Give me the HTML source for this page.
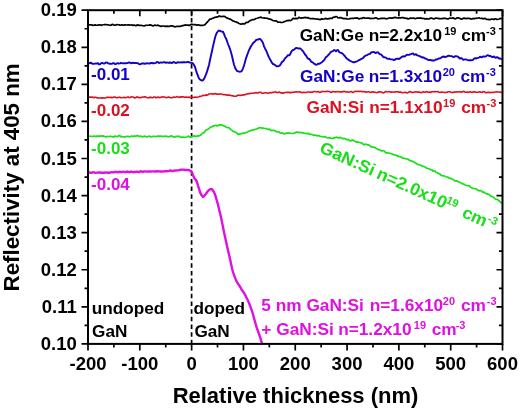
<!DOCTYPE html>
<html><head><meta charset="utf-8"><style>
html,body{margin:0;padding:0;background:#fff;}
svg{display:block;}
text{font-family:"Liberation Sans",Arial,sans-serif;font-weight:bold;}
</style></head><body>
<svg width="520" height="412" viewBox="0 0 520 412">
<rect width="520" height="412" fill="#fff"/>
<line x1="191.6" y1="10.44" x2="191.6" y2="343" stroke="#000" stroke-width="1.7" stroke-dasharray="4.5 3.16"/>
<path d="M88.0 25.26L89.0 24.94L90.0 24.93L91.0 24.81L92.0 24.89L93.0 25.41L94.0 25.24L95.0 24.81L96.0 25.08L97.0 25.24L98.0 25.20L99.0 24.88L100.0 24.85L101.0 25.32L102.0 25.00L103.0 24.77L104.0 24.68L105.0 24.51L106.0 24.54L107.0 24.78L108.0 24.89L109.0 25.02L110.0 25.30L111.0 25.23L112.0 24.55L113.0 24.47L114.0 25.07L115.0 25.23L116.0 24.86L117.0 24.69L118.0 24.73L119.0 24.74L120.0 25.15L121.0 25.05L122.0 24.76L123.0 25.24L124.0 25.05L125.0 24.86L126.0 24.95L127.0 24.99L128.0 24.81L129.0 24.78L130.0 25.27L131.0 25.02L132.0 24.94L133.0 25.38L134.0 25.06L135.0 25.41L136.0 25.69L137.0 25.11L138.0 24.92L139.0 25.39L140.0 25.32L141.0 25.41L142.0 25.52L143.0 25.72L144.0 25.93L145.0 25.58L146.0 25.25L147.0 25.25L148.0 25.28L149.0 25.17L150.0 24.88L151.0 25.11L152.0 25.53L153.0 26.00L154.0 25.47L155.0 25.07L156.0 25.47L157.0 25.36L158.0 25.19L159.0 25.68L160.0 25.99L161.0 26.32L162.0 26.07L163.0 25.99L164.0 25.98L165.0 26.47L166.0 26.39L167.0 26.07L168.0 26.32L169.0 26.30L170.0 26.13L171.0 25.87L172.0 25.94L173.0 26.17L174.0 26.50L175.0 26.82L176.0 26.51L177.0 26.44L178.0 26.38L179.0 26.40L180.0 26.38L181.0 26.15L182.0 25.66L183.0 25.58L184.0 25.46L185.0 24.87L186.0 25.11L187.0 25.20L188.0 25.07L189.0 25.61L190.0 25.12L191.0 24.32L192.0 24.43L193.0 24.57L194.0 24.57L195.0 24.50L196.0 24.84L197.0 25.20L198.0 24.89L199.0 24.95L200.0 25.43L201.0 25.31L202.0 25.45L203.0 25.33L204.0 24.98L205.0 24.60L206.0 23.50L207.0 22.36L208.0 21.30L209.0 20.11L210.0 19.13L211.0 19.14L212.0 18.46L213.0 18.18L214.0 17.74L215.0 17.39L216.0 17.20L217.0 16.86L218.0 16.81L219.0 16.04L220.0 16.08L221.0 16.77L222.0 16.48L223.0 16.24L224.0 16.40L225.0 16.62L226.0 17.45L227.0 18.11L228.0 18.36L229.0 18.73L230.0 19.15L231.0 19.58L232.0 20.26L233.0 20.93L234.0 21.25L235.0 21.73L236.0 21.93L237.0 22.36L238.0 22.83L239.0 23.42L240.0 23.81L241.0 24.05L242.0 23.90L243.0 23.68L244.0 23.98L245.0 23.65L246.0 22.63L247.0 22.31L248.0 22.30L249.0 21.45L250.0 20.58L251.0 20.39L252.0 19.75L253.0 19.67L254.0 19.67L255.0 19.10L256.0 18.47L257.0 18.25L258.0 17.98L259.0 17.56L260.0 17.39L261.0 17.14L262.0 17.77L263.0 17.98L264.0 17.87L265.0 18.18L266.0 18.25L267.0 18.21L268.0 18.65L269.0 18.94L270.0 19.08L271.0 19.39L272.0 20.02L273.0 20.59L274.0 20.74L275.0 20.82L276.0 20.74L277.0 21.38L278.0 22.26L279.0 22.23L280.0 22.17L281.0 22.49L282.0 22.48L283.0 22.26L284.0 21.70L285.0 21.51L286.0 21.08L287.0 20.60L288.0 20.67L289.0 20.37L290.0 20.53L291.0 20.43L292.0 19.53L293.0 18.41L294.0 18.63L295.0 18.61L296.0 18.35L297.0 18.67L298.0 18.16L299.0 17.30L300.0 17.74L301.0 18.14L302.0 17.91L303.0 17.89L304.0 17.70L305.0 17.43L306.0 17.61L307.0 17.80L308.0 17.57L309.0 18.17L310.0 18.59L311.0 18.67L312.0 18.63L313.0 18.55L314.0 18.68L315.0 18.78L316.0 19.01L317.0 19.10L318.0 19.14L319.0 19.38L320.0 19.70L321.0 19.17L322.0 18.87L323.0 19.23L324.0 19.03L325.0 18.64L326.0 18.41L327.0 18.94L328.0 18.96L329.0 18.62L330.0 18.38L331.0 18.45L332.0 18.38L333.0 17.45L334.0 17.07L335.0 17.10L336.0 16.49L337.0 16.77L338.0 17.78L339.0 18.02L340.0 17.60L341.0 17.58L342.0 18.15L343.0 18.56L344.0 18.41L345.0 18.54L346.0 18.61L347.0 18.87L348.0 18.98L349.0 18.88L350.0 18.54L351.0 18.50L352.0 18.38L353.0 18.38L354.0 18.31L355.0 17.99L356.0 18.18L357.0 17.83L358.0 18.35L359.0 19.00L360.0 18.51L361.0 18.29L362.0 18.45L363.0 17.73L364.0 17.64L365.0 18.21L366.0 18.27L367.0 18.09L368.0 17.98L369.0 18.05L370.0 18.38L371.0 18.54L372.0 18.23L373.0 18.51L374.0 18.41L375.0 17.92L376.0 17.83L377.0 18.27L378.0 18.94L379.0 18.77L380.0 18.67L381.0 18.38L382.0 18.41L383.0 18.29L384.0 18.26L385.0 18.40L386.0 18.78L387.0 18.76L388.0 18.43L389.0 18.00L390.0 17.79L391.0 18.19L392.0 18.20L393.0 17.85L394.0 17.65L395.0 17.44L396.0 17.56L397.0 18.02L398.0 17.94L399.0 17.78L400.0 17.77L401.0 17.85L402.0 17.54L403.0 17.57L404.0 17.87L405.0 18.20L406.0 18.30L407.0 18.24L408.0 18.94L409.0 18.75L410.0 18.19L411.0 18.20L412.0 18.29L413.0 17.98L414.0 18.13L415.0 18.69L416.0 18.53L417.0 18.16L418.0 18.01L419.0 18.12L420.0 18.14L421.0 17.87L422.0 18.45L423.0 18.52L424.0 18.41L425.0 18.99L426.0 18.84L427.0 18.69L428.0 19.01L429.0 18.91L430.0 18.34L431.0 18.12L432.0 18.16L433.0 18.77L434.0 18.88L435.0 18.42L436.0 18.05L437.0 18.26L438.0 18.37L439.0 18.59L440.0 18.60L441.0 18.72L442.0 18.60L443.0 18.46L444.0 18.40L445.0 18.46L446.0 18.41L447.0 18.84L448.0 18.91L449.0 18.50L450.0 18.11L451.0 18.28L452.0 18.17L453.0 17.80L454.0 18.41L455.0 18.80L456.0 18.58L457.0 17.92L458.0 17.77L459.0 18.12L460.0 18.37L461.0 19.09L462.0 19.06L463.0 18.38L464.0 18.10L465.0 18.43L466.0 18.63L467.0 18.41L468.0 18.47L469.0 18.38L470.0 18.56L471.0 19.04L472.0 18.98L473.0 18.54L474.0 18.47L475.0 18.53L476.0 18.33L477.0 18.21L478.0 18.00L479.0 17.73L480.0 18.24L481.0 18.46L482.0 18.36L483.0 18.82L484.0 18.56L485.0 18.30L486.0 18.92L487.0 19.48L488.0 19.40L489.0 19.62L490.0 19.70L491.0 19.27L492.0 18.94L493.0 19.30L494.0 19.45L495.0 18.81L496.0 18.95L497.0 19.49L498.0 19.30L499.0 19.02L500.0 18.61L501.0 18.41L502.0 19.05" stroke="#000000" stroke-width="1.7" fill="none" stroke-linejoin="round"/>
<path d="M88.0 63.46L89.0 63.44L90.0 62.97L91.0 62.77L92.0 63.51L93.0 63.86L94.0 63.76L95.0 63.59L96.0 63.46L97.0 63.47L98.0 63.28L99.0 64.25L100.0 64.39L101.0 63.37L102.0 62.92L103.0 63.25L104.0 63.50L105.0 63.23L106.0 62.38L107.0 62.66L108.0 63.33L109.0 63.54L110.0 63.80L111.0 63.92L112.0 63.70L113.0 63.19L114.0 63.09L115.0 64.09L116.0 63.95L117.0 63.42L118.0 63.17L119.0 63.62L120.0 63.39L121.0 62.82L122.0 63.17L123.0 63.43L124.0 63.22L125.0 63.11L126.0 63.18L127.0 63.08L128.0 62.94L129.0 62.46L130.0 62.61L131.0 63.25L132.0 63.02L133.0 62.66L134.0 63.03L135.0 63.05L136.0 63.08L137.0 63.07L138.0 63.23L139.0 64.11L140.0 64.41L141.0 63.93L142.0 63.49L143.0 63.55L144.0 63.39L145.0 63.76L146.0 63.53L147.0 63.23L148.0 63.41L149.0 63.48L150.0 63.52L151.0 62.88L152.0 62.99L153.0 63.26L154.0 63.18L155.0 63.11L156.0 62.86L157.0 61.91L158.0 62.21L159.0 62.98L160.0 62.67L161.0 62.46L162.0 62.59L163.0 62.47L164.0 62.05L165.0 62.33L166.0 62.81L167.0 62.52L168.0 62.65L169.0 62.95L170.0 62.21L171.0 62.85L172.0 62.97L173.0 62.20L174.0 62.06L175.0 62.67L176.0 63.15L177.0 62.66L178.0 62.22L179.0 62.60L180.0 62.39L181.0 62.32L182.0 62.50L183.0 62.24L184.0 62.06L185.0 62.28L186.0 62.42L187.0 62.14L188.0 61.90L189.0 62.33L190.0 62.53L191.0 62.69L192.0 62.88L193.0 63.52L194.0 64.94L195.0 66.97L196.0 70.35L197.0 73.42L198.0 75.87L199.0 78.51L200.0 79.40L201.0 80.16L202.0 80.58L203.0 80.24L204.0 78.85L205.0 77.02L206.0 74.43L207.0 71.64L208.0 68.37L209.0 64.98L210.0 59.97L211.0 55.44L212.0 50.94L213.0 46.16L214.0 42.11L215.0 37.80L216.0 34.58L217.0 32.51L218.0 31.27L219.0 30.56L220.0 30.75L221.0 31.36L222.0 31.68L223.0 31.74L224.0 33.83L225.0 36.61L226.0 38.43L227.0 41.05L228.0 43.99L229.0 46.40L230.0 49.04L231.0 52.20L232.0 56.05L233.0 60.47L234.0 64.75L235.0 67.46L236.0 69.50L237.0 70.81L238.0 71.25L239.0 71.69L240.0 71.62L241.0 71.64L242.0 70.58L243.0 68.26L244.0 65.61L245.0 61.88L246.0 58.34L247.0 55.51L248.0 52.73L249.0 50.17L250.0 48.24L251.0 46.23L252.0 44.72L253.0 43.27L254.0 42.21L255.0 41.52L256.0 40.19L257.0 39.62L258.0 39.49L259.0 39.14L260.0 38.90L261.0 39.84L262.0 41.30L263.0 43.03L264.0 46.33L265.0 48.46L266.0 50.24L267.0 52.67L268.0 55.03L269.0 57.35L270.0 59.30L271.0 61.05L272.0 62.86L273.0 64.00L274.0 64.40L275.0 64.94L276.0 65.83L277.0 66.37L278.0 66.26L279.0 65.89L280.0 65.35L281.0 63.76L282.0 61.79L283.0 61.31L284.0 60.11L285.0 58.47L286.0 57.44L287.0 56.31L288.0 55.26L289.0 55.39L290.0 54.62L291.0 52.32L292.0 50.77L293.0 50.02L294.0 49.68L295.0 48.84L296.0 47.83L297.0 48.04L298.0 48.50L299.0 48.48L300.0 48.46L301.0 48.98L302.0 50.21L303.0 51.13L304.0 52.81L305.0 54.49L306.0 55.51L307.0 57.40L308.0 58.74L309.0 58.74L310.0 59.70L311.0 61.42L312.0 62.16L313.0 62.53L314.0 63.66L315.0 64.03L316.0 64.88L317.0 64.58L318.0 63.67L319.0 63.94L320.0 63.48L321.0 62.82L322.0 62.18L323.0 61.04L324.0 60.35L325.0 58.74L326.0 57.07L327.0 56.51L328.0 55.32L329.0 54.39L330.0 53.01L331.0 51.79L332.0 51.42L333.0 51.12L334.0 50.02L335.0 50.37L336.0 51.22L337.0 50.32L338.0 50.00L339.0 51.69L340.0 52.54L341.0 52.82L342.0 53.22L343.0 54.00L344.0 55.25L345.0 56.24L346.0 57.70L347.0 58.77L348.0 59.33L349.0 60.15L350.0 60.82L351.0 61.24L352.0 61.73L353.0 62.29L354.0 62.31L355.0 61.99L356.0 61.60L357.0 61.31L358.0 60.69L359.0 60.07L360.0 59.75L361.0 59.04L362.0 58.61L363.0 58.19L364.0 56.84L365.0 56.05L366.0 55.37L367.0 55.16L368.0 54.45L369.0 54.14L370.0 53.90L371.0 52.45L372.0 52.26L373.0 52.09L374.0 51.89L375.0 52.75L376.0 53.07L377.0 52.42L378.0 52.25L379.0 53.47L380.0 54.26L381.0 54.34L382.0 55.35L383.0 56.69L384.0 57.33L385.0 57.31L386.0 57.75L387.0 58.57L388.0 58.87L389.0 58.64L390.0 59.18L391.0 59.38L392.0 59.33L393.0 59.59L394.0 60.10L395.0 59.67L396.0 58.83L397.0 58.80L398.0 58.77L399.0 59.03L400.0 58.38L401.0 57.45L402.0 56.74L403.0 56.27L404.0 56.44L405.0 56.38L406.0 55.42L407.0 54.80L408.0 54.87L409.0 54.84L410.0 54.43L411.0 54.05L412.0 53.63L413.0 53.41L414.0 54.71L415.0 54.53L416.0 54.25L417.0 55.22L418.0 55.65L419.0 55.84L420.0 56.28L421.0 56.90L422.0 57.47L423.0 57.26L424.0 57.72L425.0 58.46L426.0 58.69L427.0 59.25L428.0 59.88L429.0 60.18L430.0 59.97L431.0 60.06L432.0 60.52L433.0 60.49L434.0 60.53L435.0 60.03L436.0 59.42L437.0 59.45L438.0 58.84L439.0 58.48L440.0 58.37L441.0 57.84L442.0 57.09L443.0 56.49L444.0 56.74L445.0 57.03L446.0 56.90L447.0 56.37L448.0 56.00L449.0 55.68L450.0 55.95L451.0 56.10L452.0 56.15L453.0 56.92L454.0 57.08L455.0 56.21L456.0 56.20L457.0 56.42L458.0 56.65L459.0 57.86L460.0 58.62L461.0 58.04L462.0 58.48L463.0 59.71L464.0 59.70L465.0 59.38L466.0 59.42L467.0 59.83L468.0 60.08L469.0 60.37L470.0 60.29L471.0 60.26L472.0 60.11L473.0 59.83L474.0 58.72L475.0 58.20L476.0 58.50L477.0 58.17L478.0 57.90L479.0 57.62L480.0 56.79L481.0 57.02L482.0 57.19L483.0 56.49L484.0 56.45L485.0 56.70L486.0 56.34L487.0 55.35L488.0 55.17L489.0 55.87L490.0 56.02L491.0 56.29L492.0 56.95L493.0 56.97L494.0 56.39L495.0 57.34L496.0 57.83L497.0 57.10L498.0 57.56L499.0 58.50L500.0 58.50L501.0 58.86L502.0 59.16" stroke="#1400c8" stroke-width="1.9" fill="none" stroke-linejoin="round"/>
<path d="M88.0 97.39L89.0 97.15L90.0 97.01L91.0 97.37L92.0 97.00L93.0 97.22L94.0 97.72L95.0 97.18L96.0 97.33L97.0 97.87L98.0 97.88L99.0 98.00L100.0 97.96L101.0 97.82L102.0 98.17L103.0 97.82L104.0 97.89L105.0 97.99L106.0 97.69L107.0 97.33L108.0 97.26L109.0 97.53L110.0 97.35L111.0 97.36L112.0 97.61L113.0 97.51L114.0 97.01L115.0 96.99L116.0 97.68L117.0 97.61L118.0 97.45L119.0 97.19L120.0 97.33L121.0 97.77L122.0 97.69L123.0 97.47L124.0 97.33L125.0 97.65L126.0 97.58L127.0 97.30L128.0 96.87L129.0 97.64L130.0 97.55L131.0 96.82L132.0 97.03L133.0 97.03L134.0 97.44L135.0 98.04L136.0 97.60L137.0 96.74L138.0 97.21L139.0 97.77L140.0 97.67L141.0 97.62L142.0 97.26L143.0 96.95L144.0 96.90L145.0 96.74L146.0 97.30L147.0 97.46L148.0 97.74L149.0 97.85L150.0 97.15L151.0 97.34L152.0 97.75L153.0 97.65L154.0 96.95L155.0 97.01L156.0 97.74L157.0 97.59L158.0 97.05L159.0 97.38L160.0 97.63L161.0 97.12L162.0 96.94L163.0 96.87L164.0 96.98L165.0 97.21L166.0 97.58L167.0 97.61L168.0 97.10L169.0 97.10L170.0 97.66L171.0 97.73L172.0 97.72L173.0 97.32L174.0 97.02L175.0 97.21L176.0 97.18L177.0 96.56L178.0 97.01L179.0 97.35L180.0 97.13L181.0 96.89L182.0 96.78L183.0 96.85L184.0 96.94L185.0 97.39L186.0 97.07L187.0 97.17L188.0 97.48L189.0 96.99L190.0 97.38L191.0 97.68L192.0 97.09L193.0 97.47L194.0 97.53L195.0 97.09L196.0 97.23L197.0 97.35L198.0 97.07L199.0 96.75L200.0 96.35L201.0 96.24L202.0 95.88L203.0 95.29L204.0 95.55L205.0 95.45L206.0 94.90L207.0 95.12L208.0 94.79L209.0 93.93L210.0 93.94L211.0 93.73L212.0 93.75L213.0 94.24L214.0 93.87L215.0 93.57L216.0 93.87L217.0 94.13L218.0 93.97L219.0 94.20L220.0 94.00L221.0 93.87L222.0 94.36L223.0 94.50L224.0 94.68L225.0 94.59L226.0 94.69L227.0 95.17L228.0 95.16L229.0 95.04L230.0 95.10L231.0 95.60L232.0 95.79L233.0 95.83L234.0 96.18L235.0 96.23L236.0 96.27L237.0 95.81L238.0 95.07L239.0 95.26L240.0 95.38L241.0 95.34L242.0 95.13L243.0 94.92L244.0 94.92L245.0 94.64L246.0 94.30L247.0 94.01L248.0 93.73L249.0 93.53L250.0 93.60L251.0 93.19L252.0 93.21L253.0 93.20L254.0 92.98L255.0 92.87L256.0 92.52L257.0 92.97L258.0 93.05L259.0 92.27L260.0 92.27L261.0 92.53L262.0 93.17L263.0 93.35L264.0 93.00L265.0 92.78L266.0 92.70L267.0 92.96L268.0 93.22L269.0 92.90L270.0 92.60L271.0 92.87L272.0 92.45L273.0 92.36L274.0 92.38L275.0 91.89L276.0 92.02L277.0 92.67L278.0 92.48L279.0 92.07L280.0 92.50L281.0 93.02L282.0 92.88L283.0 93.18L284.0 92.77L285.0 92.50L286.0 92.57L287.0 92.36L288.0 92.41L289.0 92.38L290.0 92.64L291.0 92.64L292.0 92.39L293.0 92.23L294.0 92.32L295.0 92.05L296.0 91.79L297.0 92.02L298.0 91.96L299.0 91.87L300.0 91.86L301.0 92.34L302.0 92.81L303.0 92.46L304.0 92.16L305.0 92.57L306.0 92.68L307.0 92.08L308.0 91.94L309.0 91.94L310.0 92.23L311.0 92.05L312.0 92.17L313.0 91.89L314.0 91.51L315.0 91.54L316.0 91.79L317.0 91.96L318.0 91.58L319.0 92.02L320.0 92.42L321.0 92.01L322.0 91.62L323.0 91.45L324.0 91.48L325.0 91.71L326.0 91.50L327.0 91.36L328.0 91.41L329.0 91.45L330.0 91.87L331.0 92.48L332.0 91.88L333.0 91.44L334.0 91.68L335.0 91.87L336.0 91.81L337.0 91.67L338.0 91.51L339.0 91.76L340.0 92.03L341.0 91.91L342.0 91.88L343.0 91.82L344.0 91.33L345.0 91.63L346.0 92.04L347.0 91.87L348.0 92.02L349.0 92.32L350.0 91.87L351.0 91.43L352.0 92.00L353.0 92.47L354.0 91.90L355.0 91.37L356.0 91.37L357.0 91.53L358.0 91.36L359.0 91.38L360.0 91.43L361.0 91.21L362.0 91.62L363.0 91.75L364.0 91.54L365.0 91.81L366.0 92.12L367.0 91.94L368.0 91.82L369.0 91.73L370.0 92.18L371.0 92.51L372.0 91.90L373.0 91.72L374.0 92.11L375.0 92.22L376.0 92.54L377.0 92.73L378.0 92.14L379.0 91.85L380.0 91.84L381.0 91.97L382.0 92.31L383.0 92.88L384.0 92.75L385.0 91.73L386.0 91.50L387.0 91.95L388.0 91.83L389.0 91.56L390.0 91.73L391.0 92.15L392.0 92.17L393.0 91.93L394.0 92.01L395.0 92.09L396.0 91.88L397.0 91.81L398.0 91.78L399.0 92.28L400.0 92.15L401.0 92.11L402.0 92.73L403.0 92.68L404.0 92.46L405.0 92.27L406.0 92.51L407.0 92.96L408.0 92.67L409.0 91.90L410.0 91.44L411.0 92.03L412.0 92.52L413.0 92.36L414.0 92.24L415.0 91.93L416.0 91.68L417.0 91.96L418.0 92.13L419.0 91.97L420.0 92.18L421.0 92.75L422.0 92.42L423.0 91.79L424.0 92.10L425.0 92.30L426.0 91.56L427.0 91.75L428.0 92.33L429.0 91.95L430.0 92.35L431.0 92.39L432.0 91.64L433.0 91.69L434.0 91.65L435.0 91.51L436.0 91.77L437.0 91.78L438.0 91.63L439.0 92.18L440.0 92.41L441.0 92.26L442.0 92.16L443.0 92.19L444.0 92.43L445.0 92.38L446.0 92.45L447.0 92.32L448.0 91.82L449.0 91.74L450.0 91.72L451.0 92.17L452.0 92.59L453.0 92.40L454.0 92.03L455.0 92.13L456.0 91.96L457.0 91.84L458.0 91.99L459.0 91.71L460.0 91.74L461.0 92.13L462.0 91.85L463.0 91.61L464.0 91.34L465.0 92.10L466.0 92.24L467.0 92.03L468.0 92.49L469.0 92.10L470.0 91.82L471.0 92.13L472.0 92.56L473.0 92.10L474.0 91.71L475.0 92.11L476.0 92.17L477.0 92.31L478.0 92.25L479.0 91.95L480.0 91.85L481.0 92.20L482.0 92.46L483.0 91.63L484.0 91.74L485.0 92.18L486.0 92.77L487.0 92.64L488.0 92.28L489.0 92.35L490.0 92.60L491.0 92.57L492.0 92.37L493.0 92.45L494.0 92.20L495.0 91.99L496.0 92.03L497.0 91.87L498.0 92.01L499.0 91.93L500.0 92.02L501.0 92.51L502.0 92.33" stroke="#dc1020" stroke-width="1.6" fill="none" stroke-linejoin="round"/>
<path d="M88.0 136.61L89.0 136.03L90.0 136.23L91.0 136.33L92.0 136.37L93.0 136.49L94.0 136.07L95.0 136.29L96.0 136.61L97.0 136.04L98.0 136.15L99.0 136.30L100.0 135.90L101.0 136.04L102.0 136.07L103.0 135.94L104.0 136.16L105.0 136.59L106.0 136.94L107.0 136.47L108.0 136.48L109.0 136.48L110.0 136.21L111.0 136.43L112.0 136.57L113.0 136.97L114.0 136.89L115.0 136.01L116.0 136.32L117.0 136.63L118.0 136.19L119.0 135.49L120.0 135.83L121.0 136.81L122.0 136.71L123.0 136.71L124.0 136.95L125.0 136.79L126.0 136.55L127.0 136.47L128.0 136.22L129.0 136.75L130.0 136.87L131.0 136.14L132.0 136.14L133.0 136.35L134.0 135.98L135.0 136.13L136.0 136.15L137.0 135.70L138.0 135.70L139.0 136.34L140.0 136.37L141.0 136.13L142.0 136.67L143.0 136.80L144.0 136.41L145.0 136.20L146.0 136.61L147.0 136.85L148.0 136.51L149.0 136.05L150.0 136.47L151.0 137.04L152.0 136.75L153.0 136.39L154.0 136.36L155.0 136.52L156.0 136.59L157.0 136.23L158.0 135.95L159.0 136.34L160.0 136.03L161.0 136.08L162.0 136.47L163.0 136.29L164.0 136.42L165.0 136.23L166.0 136.05L167.0 136.54L168.0 136.67L169.0 136.78L170.0 136.57L171.0 135.77L172.0 136.14L173.0 136.64L174.0 137.05L175.0 137.05L176.0 136.42L177.0 136.33L178.0 136.59L179.0 136.05L180.0 136.89L181.0 137.43L182.0 137.08L183.0 137.08L184.0 137.40L185.0 137.22L186.0 137.05L187.0 136.78L188.0 136.13L189.0 136.62L190.0 137.19L191.0 136.91L192.0 136.51L193.0 136.33L194.0 135.90L195.0 136.11L196.0 136.44L197.0 136.19L198.0 135.95L199.0 135.88L200.0 135.39L201.0 134.87L202.0 133.74L203.0 132.84L204.0 132.72L205.0 131.45L206.0 129.96L207.0 129.63L208.0 129.27L209.0 128.58L210.0 127.51L211.0 126.99L212.0 126.80L213.0 125.87L214.0 125.86L215.0 125.49L216.0 125.36L217.0 125.88L218.0 125.68L219.0 125.05L220.0 124.90L221.0 124.78L222.0 125.10L223.0 125.51L224.0 125.92L225.0 126.33L226.0 126.91L227.0 127.35L228.0 127.55L229.0 127.87L230.0 128.69L231.0 129.56L232.0 130.38L233.0 131.32L234.0 131.52L235.0 132.15L236.0 132.49L237.0 133.42L238.0 134.45L239.0 134.09L240.0 133.73L241.0 133.95L242.0 133.50L243.0 132.95L244.0 133.30L245.0 133.13L246.0 132.50L247.0 132.24L248.0 131.75L249.0 131.11L250.0 130.84L251.0 130.29L252.0 130.30L253.0 129.80L254.0 129.77L255.0 129.43L256.0 129.21L257.0 128.80L258.0 128.21L259.0 128.04L260.0 127.49L261.0 127.79L262.0 128.24L263.0 127.95L264.0 128.25L265.0 128.51L266.0 128.45L267.0 128.99L268.0 129.33L269.0 129.07L270.0 129.68L271.0 130.57L272.0 130.47L273.0 130.34L274.0 130.35L275.0 130.66L276.0 131.58L277.0 132.02L278.0 131.84L279.0 131.98L280.0 132.85L281.0 133.13L282.0 132.80L283.0 133.32L284.0 133.89L285.0 133.67L286.0 133.44L287.0 133.09L288.0 132.85L289.0 133.04L290.0 133.24L291.0 133.36L292.0 133.52L293.0 133.45L294.0 133.28L295.0 132.85L296.0 132.16L297.0 132.18L298.0 132.41L299.0 132.34L300.0 132.59L301.0 132.53L302.0 132.51L303.0 132.89L304.0 133.35L305.0 133.29L306.0 133.54L307.0 133.63L308.0 133.34L309.0 133.63L310.0 134.48L311.0 134.45L312.0 134.38L313.0 134.96L314.0 135.37L315.0 135.01L316.0 135.23L317.0 135.80L318.0 135.61L319.0 135.72L320.0 136.27L321.0 136.49L322.0 136.50L323.0 137.02L324.0 136.98L325.0 136.54L326.0 137.19L327.0 137.75L328.0 138.01L329.0 137.71L330.0 137.80L331.0 138.27L332.0 138.49L333.0 138.09L334.0 137.71L335.0 137.86L336.0 137.36L337.0 137.19L338.0 137.89L339.0 137.90L340.0 137.34L341.0 137.74L342.0 138.33L343.0 138.55L344.0 138.42L345.0 138.60L346.0 139.40L347.0 139.66L348.0 139.44L349.0 140.06L350.0 140.95L351.0 140.83L352.0 139.98L353.0 140.13L354.0 140.80L355.0 141.38L356.0 142.01L357.0 142.09L358.0 141.95L359.0 142.30L360.0 142.54L361.0 142.82L362.0 143.17L363.0 144.06L364.0 144.78L365.0 144.27L366.0 144.16L367.0 144.59L368.0 144.83L369.0 145.17L370.0 145.95L371.0 146.81L372.0 147.20L373.0 147.17L374.0 147.33L375.0 147.52L376.0 148.18L377.0 148.76L378.0 149.42L379.0 149.73L380.0 150.02L381.0 150.74L382.0 150.86L383.0 150.67L384.0 150.74L385.0 151.83L386.0 152.84L387.0 152.94L388.0 152.97L389.0 153.18L390.0 153.24L391.0 153.49L392.0 153.97L393.0 154.55L394.0 154.62L395.0 154.87L396.0 155.35L397.0 155.90L398.0 155.77L399.0 156.46L400.0 157.00L401.0 156.95L402.0 157.50L403.0 158.21L404.0 158.24L405.0 158.58L406.0 158.76L407.0 158.94L408.0 159.06L409.0 160.09L410.0 160.56L411.0 160.81L412.0 161.47L413.0 161.43L414.0 161.98L415.0 162.70L416.0 163.27L417.0 164.07L418.0 164.38L419.0 164.60L420.0 165.01L421.0 165.41L422.0 166.06L423.0 166.19L424.0 166.54L425.0 167.11L426.0 167.70L427.0 168.28L428.0 168.52L429.0 168.74L430.0 169.52L431.0 169.77L432.0 169.90L433.0 171.11L434.0 171.00L435.0 170.97L436.0 172.28L437.0 172.49L438.0 173.44L439.0 173.67L440.0 173.91L441.0 175.35L442.0 175.71L443.0 175.73L444.0 175.98L445.0 176.21L446.0 176.72L447.0 177.05L448.0 177.18L449.0 178.07L450.0 178.30L451.0 178.46L452.0 179.14L453.0 179.46L454.0 180.11L455.0 180.96L456.0 180.81L457.0 181.10L458.0 181.61L459.0 182.07L460.0 182.52L461.0 182.89L462.0 183.56L463.0 183.83L464.0 184.22L465.0 184.83L466.0 185.21L467.0 185.50L468.0 185.57L469.0 185.80L470.0 186.53L471.0 187.38L472.0 188.15L473.0 188.50L474.0 188.50L475.0 188.58L476.0 189.03L477.0 189.50L478.0 190.26L479.0 190.83L480.0 190.66L481.0 190.67L482.0 191.57L483.0 192.22L484.0 192.22L485.0 192.99L486.0 193.64L487.0 193.77L488.0 194.30L489.0 194.44L490.0 195.40L491.0 196.23L492.0 196.37L493.0 196.95L494.0 197.91L495.0 198.63L496.0 199.16L497.0 199.31L498.0 199.97L499.0 200.71L500.0 201.57L501.0 202.70L502.0 203.41" stroke="#18e018" stroke-width="1.7" fill="none" stroke-linejoin="round"/>
<path d="M88.0 172.74L89.0 172.54L90.0 172.57L91.0 172.76L92.0 172.68L93.0 172.30L94.0 172.35L95.0 172.73L96.0 172.84L97.0 172.62L98.0 172.63L99.0 172.32L100.0 172.47L101.0 172.82L102.0 172.76L103.0 172.77L104.0 172.71L105.0 172.56L106.0 172.58L107.0 172.50L108.0 172.77L109.0 172.79L110.0 172.52L111.0 172.33L112.0 172.10L113.0 172.34L114.0 172.24L115.0 171.91L116.0 171.97L117.0 172.03L118.0 172.33L119.0 172.03L120.0 171.77L121.0 172.20L122.0 171.99L123.0 171.73L124.0 171.92L125.0 172.18L126.0 171.98L127.0 171.52L128.0 171.79L129.0 172.21L130.0 172.05L131.0 171.54L132.0 171.87L133.0 172.21L134.0 172.06L135.0 172.04L136.0 171.82L137.0 171.76L138.0 171.94L139.0 172.18L140.0 171.53L141.0 171.22L142.0 171.83L143.0 171.87L144.0 171.36L145.0 171.42L146.0 171.55L147.0 171.59L148.0 171.52L149.0 171.50L150.0 171.48L151.0 171.60L152.0 171.41L153.0 171.35L154.0 171.38L155.0 171.56L156.0 171.57L157.0 171.27L158.0 171.23L159.0 171.39L160.0 171.47L161.0 171.44L162.0 171.48L163.0 171.63L164.0 171.34L165.0 171.14L166.0 171.22L167.0 171.24L168.0 171.11L169.0 170.86L170.0 170.46L171.0 170.76L172.0 171.00L173.0 171.04L174.0 170.65L175.0 170.50L176.0 170.47L177.0 170.35L178.0 170.41L179.0 170.21L180.0 169.96L181.0 169.71L182.0 169.65L183.0 169.64L184.0 169.79L185.0 170.01L186.0 169.97L187.0 170.04L188.0 169.91L189.0 170.23L190.0 170.65L191.0 171.18L192.0 172.27L193.0 175.22L194.0 177.63L195.0 179.04L196.0 180.16L197.0 182.12L198.0 185.53L199.0 188.65L200.0 192.04L201.0 194.28L202.0 195.79L203.0 196.84L204.0 196.26L205.0 194.94L206.0 193.68L207.0 192.32L208.0 191.02L209.0 190.00L210.0 189.40L211.0 189.01L212.0 189.14L213.0 190.68L214.0 192.25L215.0 194.32L216.0 197.70L217.0 201.16L218.0 204.77L219.0 208.92L220.0 212.91L221.0 217.20L222.0 222.13L223.0 227.20L224.0 231.99L225.0 236.77L226.0 241.36L227.0 245.93L228.0 250.38L229.0 254.53L230.0 258.74L231.0 263.55L232.0 268.27L233.0 272.08L234.0 274.97L235.0 277.65L236.0 280.06L237.0 282.12L238.0 283.73L239.0 285.06L240.0 286.68L241.0 288.56L242.0 290.01L243.0 291.47L244.0 292.93L245.0 294.65L246.0 296.66L247.0 298.58L248.0 300.65L249.0 302.99L250.0 305.64L251.0 308.30L252.0 310.95L253.0 314.29L254.0 318.17L255.0 321.75L256.0 325.21L257.0 328.48L258.0 331.18L259.0 334.02L260.0 336.90L261.0 340.19L262.0 343.31" stroke="#e010e0" stroke-width="2.4" fill="none" stroke-linejoin="round"/>
<rect x="88.0" y="10.2" width="414.5" height="333.7" fill="none" stroke="#000" stroke-width="2"/>
<path d="M88.00 343.90 V350.40 M88.00 10.20 V16.20 M113.91 343.90 V347.40 M113.91 10.20 V13.70 M139.81 343.90 V350.40 M139.81 10.20 V16.20 M165.72 343.90 V347.40 M165.72 10.20 V13.70 M191.62 343.90 V350.40 M191.62 10.20 V16.20 M217.53 343.90 V347.40 M217.53 10.20 V13.70 M243.44 343.90 V350.40 M243.44 10.20 V16.20 M269.34 343.90 V347.40 M269.34 10.20 V13.70 M295.25 343.90 V350.40 M295.25 10.20 V16.20 M321.16 343.90 V347.40 M321.16 10.20 V13.70 M347.06 343.90 V350.40 M347.06 10.20 V16.20 M372.97 343.90 V347.40 M372.97 10.20 V13.70 M398.88 343.90 V350.40 M398.88 10.20 V16.20 M424.78 343.90 V347.40 M424.78 10.20 V13.70 M450.69 343.90 V350.40 M450.69 10.20 V16.20 M476.59 343.90 V347.40 M476.59 10.20 V13.70 M502.50 343.90 V350.40 M502.50 10.20 V16.20 M88.00 343.90 H81.50 M502.50 343.90 H496.50 M88.00 325.36 H84.50 M502.50 325.36 H499.00 M88.00 306.82 H81.50 M502.50 306.82 H496.50 M88.00 288.28 H84.50 M502.50 288.28 H499.00 M88.00 269.74 H81.50 M502.50 269.74 H496.50 M88.00 251.21 H84.50 M502.50 251.21 H499.00 M88.00 232.67 H81.50 M502.50 232.67 H496.50 M88.00 214.13 H84.50 M502.50 214.13 H499.00 M88.00 195.59 H81.50 M502.50 195.59 H496.50 M88.00 177.05 H84.50 M502.50 177.05 H499.00 M88.00 158.51 H81.50 M502.50 158.51 H496.50 M88.00 139.97 H84.50 M502.50 139.97 H499.00 M88.00 121.43 H81.50 M502.50 121.43 H496.50 M88.00 102.89 H84.50 M502.50 102.89 H499.00 M88.00 84.36 H81.50 M502.50 84.36 H496.50 M88.00 65.82 H84.50 M502.50 65.82 H499.00 M88.00 47.28 H81.50 M502.50 47.28 H496.50 M88.00 28.74 H84.50 M502.50 28.74 H499.00 M88.00 10.20 H81.50 M502.50 10.20 H496.50" stroke="#000" stroke-width="1.7" fill="none"/>
<g font-size="18.5" fill="#000">
<text x="88.00" y="369.5" text-anchor="middle">-200</text>
<text x="139.81" y="369.5" text-anchor="middle">-100</text>
<text x="191.62" y="369.5" text-anchor="middle">0</text>
<text x="243.44" y="369.5" text-anchor="middle">100</text>
<text x="295.25" y="369.5" text-anchor="middle">200</text>
<text x="347.06" y="369.5" text-anchor="middle">300</text>
<text x="398.88" y="369.5" text-anchor="middle">400</text>
<text x="450.69" y="369.5" text-anchor="middle">500</text>
<text x="502.50" y="369.5" text-anchor="middle">600</text>
<text x="76.75" y="349.90" text-anchor="end">0.10</text>
<text x="76.75" y="312.82" text-anchor="end">0.11</text>
<text x="76.75" y="275.74" text-anchor="end">0.12</text>
<text x="76.75" y="238.67" text-anchor="end">0.13</text>
<text x="76.75" y="201.59" text-anchor="end">0.14</text>
<text x="76.75" y="164.51" text-anchor="end">0.15</text>
<text x="76.75" y="127.43" text-anchor="end">0.16</text>
<text x="76.75" y="90.36" text-anchor="end">0.17</text>
<text x="76.75" y="53.28" text-anchor="end">0.18</text>
<text x="76.75" y="16.20" text-anchor="end">0.19</text>
</g>
<text x="295.5" y="403" font-size="22" text-anchor="middle">Relative thickness (nm)</text>
<text transform="translate(18.6 177.4) rotate(-90)" font-size="22.3" text-anchor="middle">Reflectivity at 405 nm</text>
<text font-size="17.25" fill="#000000"><tspan x="299.65" y="40.80">GaN:Ge</tspan> <tspan x="368.65" y="40.80">n=2.2x10</tspan><tspan x="444.25" y="34.70" font-size="11">19</tspan> <tspan x="461.15" y="40.80">cm</tspan><tspan x="486.00" y="34.70" font-size="11">-3</tspan></text>
<text font-size="17.25" fill="#1400c8"><tspan x="300.05" y="81.60">GaN:Ge</tspan> <tspan x="368.75" y="81.60">n=1.3x10</tspan><tspan x="442.75" y="75.50" font-size="11">20</tspan> <tspan x="460.45" y="81.60">cm</tspan><tspan x="486.00" y="75.50" font-size="11">-3</tspan></text>
<text font-size="17.25" fill="#dc1020"><tspan x="306.55" y="113.00">GaN:Si</tspan> <tspan x="369.15" y="113.00">n=1.1x10</tspan><tspan x="443.05" y="106.90" font-size="11">19</tspan> <tspan x="461.25" y="113.00">cm</tspan><tspan x="486.50" y="106.90" font-size="11">-3</tspan></text>
<text font-size="17.25" fill="#e010e0"><tspan x="261.35" y="311.00">5 nm GaN:Si</tspan> <tspan x="369.75" y="311.00">n=1.6x10</tspan><tspan x="442.85" y="304.90" font-size="11">20</tspan> <tspan x="460.95" y="311.00">cm</tspan><tspan x="486.80" y="304.90" font-size="11">-3</tspan></text>
<text font-size="17.25" fill="#e010e0"><tspan x="261.35" y="334.90">+ GaN:Si</tspan> <tspan x="338.15" y="334.90">n=1.2x10</tspan><tspan x="413.85" y="328.80" font-size="11">19</tspan> <tspan x="431.75" y="334.90">cm</tspan><tspan x="455.70" y="328.80" font-size="11">-3</tspan></text>
<g transform="translate(318.4 151.8) rotate(24.4) scale(1.024 1)"><text font-size="17.25" fill="#18e018"><tspan x="0.00" y="0.00">GaN:Si</tspan> <tspan x="61.30" y="0.00">n=2.0x10</tspan><tspan x="133.50" y="-6.10" font-size="11">19</tspan> <tspan x="152.80" y="0.00">cm</tspan><tspan x="177.80" y="-6.10" font-size="11">-3</tspan></text></g>
<text x="91.05" y="79.90" font-size="17" fill="#1400c8">-0.01</text>
<text x="91.05" y="115.90" font-size="17" fill="#dc1020">-0.02</text>
<text x="91.05" y="154.20" font-size="17" fill="#18e018">-0.03</text>
<text x="91.05" y="190.00" font-size="17" fill="#e010e0">-0.04</text>
<text x="91.80" y="314.30" font-size="17.2" fill="#000000">undoped</text>
<text x="92.05" y="336.50" font-size="17.2" fill="#000000">GaN</text>
<text x="193.40" y="314.30" font-size="17.2" fill="#000000">doped</text>
<text x="194.45" y="336.50" font-size="17.2" fill="#000000">GaN</text>
</svg>
</body></html>
